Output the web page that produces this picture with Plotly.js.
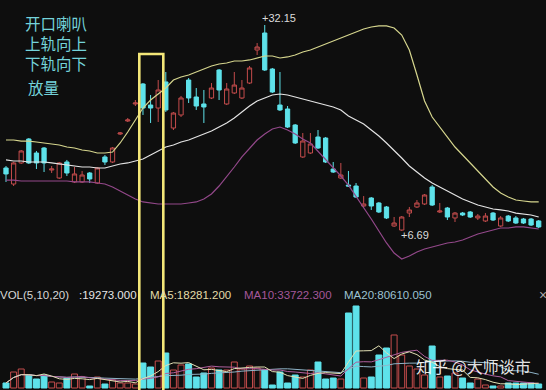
<!DOCTYPE html>
<html><head><meta charset="utf-8">
<script src="https://cdn.plot.ly/plotly-3.0.1.min.js"></script>
<style>html,body{margin:0;padding:0;background:#0e0e0e;}#c{width:546px;height:390px;}</style>
</head><body><div id="c"></div>
<script>
// ---- data ----
const openP = [14.48,12.50,15.10,18.06,16.33,16.95,14.23,13.24,15.22,12.75,
  12.75,13.86,12.62,15.84,15.22,18.68,20.29,22.39,24.86,22.26,
  21.89,25.11,19.42,21.03,25.35,23.25,22.39,23.13,26.59,22.39,
  23.75,23.13,24.98,29.06,31.16,26.71,22.26,21.77,19.79,15.84,
  16.33,18.31,18.18,14.35,13.24,12.37,12.25,9.78,10.77,10.15,
  9.66,7.31,6.81,8.91,9.66,10.03,12.13,9.04,9.53,8.30,
  8.91,9.04,8.30,7.93,8.91,7.31,8.54,8.30,8.17,8.17,7.93];
const closeP = [13.74,15.10,16.58,15.10,15.10,15.10,14.35,15.10,13.86,13.74,
  13.61,13.12,14.48,15.22,16.95,18.80,20.41,22.51,21.89,21.89,
  24.12,21.65,21.27,23.13,23.13,22.14,22.02,24.36,24.12,24.24,
  24.73,24.36,26.84,29.43,26.59,23.87,21.65,19.54,17.57,17.81,
  17.44,16.95,15.22,13.98,13.61,12.25,10.89,10.03,9.78,9.04,
  8.30,7.68,8.42,9.29,10.15,11.14,9.90,9.16,8.42,8.91,
  8.67,8.42,8.54,8.54,8.05,8.30,7.93,7.68,7.68,7.43,7.19];
const highP = [14.72,15.22,16.70,18.18,16.58,17.07,14.72,15.22,15.47,14.60,
  14.11,13.98,14.60,16.08,17.07,18.93,20.66,22.88,24.98,23.50,
  25.35,26.34,21.40,23.38,25.60,24.36,24.12,24.98,26.71,24.98,
  26.34,25.35,27.08,29.92,32.15,26.84,26.34,22.14,19.91,18.80,
  18.80,19.17,18.31,15.22,15.10,14.11,12.62,11.01,10.89,10.28,
  9.78,8.42,8.54,9.66,10.52,11.26,12.37,10.15,9.66,9.04,
  9.04,9.16,8.79,8.91,9.04,8.54,8.67,8.54,8.30,8.30,8.05];
const lowP = [12.75,12.25,14.97,14.97,14.35,13.98,13.86,13.12,13.49,12.62,
  12.62,12.62,12.50,14.85,15.10,18.55,20.16,22.14,21.03,20.04,
  20.16,21.40,19.17,20.78,22.51,21.65,20.04,23.00,22.88,22.26,
  23.62,23.00,24.86,28.44,26.47,23.75,21.52,19.42,17.44,15.71,
  16.21,16.83,15.10,13.86,13.12,12.13,10.77,9.66,9.29,8.91,
  8.17,7.19,6.69,8.42,9.53,9.90,9.78,8.91,8.05,7.80,
  8.54,8.30,8.05,7.80,7.93,7.19,7.80,7.56,7.56,7.31,7.06];
const bollUpper = [17.94,17.94,17.81,17.81,17.69,17.57,17.44,17.32,17.07,16.95,
  16.70,16.58,16.33,16.33,16.45,17.57,18.93,20.41,21.89,22.88,
  23.62,24.36,25.35,25.73,25.97,26.34,26.71,27.08,27.33,27.45,
  27.70,27.70,27.83,28.07,28.32,28.32,28.07,28.20,28.44,28.81,
  29.06,29.43,29.80,30.17,30.54,30.91,31.28,31.66,31.90,32.03,
  32.03,31.78,30.91,29.06,25.97,22.76,20.78,19.54,18.31,17.07,
  16.08,15.10,14.23,13.12,12.13,11.39,10.89,10.52,10.40,10.28,10.28];
const bollMid = [15.47,15.34,15.34,15.22,15.22,15.22,15.10,14.97,14.85,14.72,
  14.60,14.60,14.48,14.48,14.72,14.97,15.10,15.34,15.59,16.08,
  16.58,17.07,17.32,17.69,17.94,18.31,18.68,19.05,19.54,20.04,
  20.66,21.40,22.14,22.76,23.13,23.50,23.62,23.50,23.25,23.00,
  22.76,22.51,22.26,22.02,21.65,20.90,20.41,19.91,19.17,18.43,
  17.57,16.70,15.71,14.72,13.98,13.24,12.62,12.13,11.63,11.14,
  10.65,10.28,9.90,9.66,9.41,9.29,9.16,8.91,8.79,8.67,8.42];
const bollLower = [12.99,12.99,12.87,12.87,12.87,12.87,12.87,12.87,12.87,12.75,
  12.75,12.75,12.62,12.50,12.13,11.63,11.14,10.65,10.28,10.15,
  10.03,10.03,10.03,10.03,10.15,10.28,10.65,11.26,12.25,13.37,
  14.60,15.84,16.95,17.94,18.68,19.30,19.54,19.17,18.68,18.06,
  17.57,16.58,15.59,14.60,13.49,12.37,11.02,9.53,8.17,6.69,
  5.21,3.97,3.23,3.60,4.10,4.47,4.71,4.96,5.21,5.33,
  5.58,5.95,6.32,6.57,6.81,7.06,7.06,7.19,7.19,7.06,6.94];
const volume = [24100,76800,91200,62400,43200,62400,28800,24000,48000,67200,
  52800,9600,52800,19200,38400,24000,24000,19200,120000,100800,
  129600,168000,86400,110400,115200,52800,72000,96000,86400,86400,
  124800,91200,105600,96000,86400,14400,76800,24000,62400,52800,
  86400,124800,43200,48000,43200,360000,393600,48000,52800,158400,
  192000,254400,158400,105600,91200,62400,201600,52800,57600,72000,
  48000,24000,43200,14400,9600,9600,24000,24000,24000,24000,19273];
const notes = ['开口喇叭','上轨向上','下轨向下','放量'];
const volLabels = ['VOL(5,10,20)',':19273.000','MA5:18281.200','MA10:33722.300','MA20:80610.050'];
const watermark = '知乎 @大师谈市';

// ---- helpers ----
const n = closeP.length;
const idx = Array.from({length:n},(_,i)=>i);
function ma(arr,p){return arr.map((v,i)=>{const s=Math.max(0,i-p+1);let t=0;for(let k=s;k<=i;k++)t+=arr[k];return t/(i-s+1);});}
const CYAN='#5ee2ea', RED='#c44c4c', BG='#0e0e0e';
const isDown = idx.map(i=>closeP[i]<openP[i]);

const traces = [
 {type:'scatter',mode:'lines',x:idx,y:bollUpper,line:{color:'#d6d68e',width:1.2},hoverinfo:'skip'},
 {type:'scatter',mode:'lines',x:idx,y:bollMid,line:{color:'#e4e4e4',width:1.2},hoverinfo:'skip'},
 {type:'scatter',mode:'lines',x:idx,y:bollLower,line:{color:'#93488a',width:1.2},hoverinfo:'skip'},
 {type:'candlestick',x:idx,open:openP,high:highP,low:lowP,close:closeP,
  increasing:{line:{color:RED,width:1},fillcolor:BG},
  decreasing:{line:{color:CYAN,width:1},fillcolor:CYAN},whiskerwidth:0,hoverinfo:'skip'},
 {type:'bar',x:idx,y:volume,yaxis:'y2',width:0.78,
  marker:{color:isDown.map(d=>d?CYAN:BG),line:{color:isDown.map(d=>d?CYAN:RED),width:1}},hoverinfo:'skip'},
 {type:'scatter',mode:'lines',x:idx,y:ma(volume,20),yaxis:'y2',line:{color:'#8fb4c8',width:1},hoverinfo:'skip'},
 {type:'scatter',mode:'lines',x:idx,y:ma(volume,10),yaxis:'y2',line:{color:'#b0609e',width:1},hoverinfo:'skip'},
 {type:'scatter',mode:'lines',x:idx,y:ma(volume,5),yaxis:'y2',line:{color:'#e2e0b4',width:1},hoverinfo:'skip'}
];

// high / low markers
let hi=0,lo=0;
for(let i=0;i<n;i++){if(highP[i]>highP[hi])hi=i;if(lowP[i]<lowP[lo])lo=i;}
const annFont={family:'Liberation Sans, Arial, sans-serif',size:11,color:'#dcdcdc'};
const anns = [
 {x:hi,y:highP[hi],xref:'x',yref:'y',text:'+'+highP[hi].toFixed(2),showarrow:false,xanchor:'left',yanchor:'middle',xshift:-5,yshift:7,font:annFont},
 {x:lo,y:lowP[lo],xref:'x',yref:'y',text:'+'+lowP[lo].toFixed(2),showarrow:false,xanchor:'left',yanchor:'middle',xshift:-3,yshift:-4,font:annFont}
];
const noteFont={family:'Noto Sans CJK SC, sans-serif',size:15.5,color:'#74d3da'};
anns.push({xref:'paper',yref:'paper',x:23/546,y:1-43/390,text:notes.slice(0,3).join('<br>'),showarrow:false,
  xanchor:'left',yanchor:'middle',align:'left',font:noteFont});
anns.push({xref:'paper',yref:'paper',x:26/546,y:1-87/390,text:notes[3],showarrow:false,xanchor:'left',yanchor:'middle',font:noteFont});
const volX=[-2,77,148,242,342], volC=['#d8d8d8','#e6e6e6','#e4dca8','#a4589a','#9cc2d2'];
volLabels.forEach((t,k)=>anns.push({xref:'paper',yref:'paper',x:volX[k]/546,y:1-295/390,text:t,showarrow:false,xanchor:'left',yanchor:'middle',
  font:{family:'Liberation Sans, Arial, sans-serif',size:11.5,color:volC[k]}}));
anns.push({xref:'paper',yref:'paper',x:537/546,y:1-295/390,text:'×',showarrow:false,xanchor:'left',yanchor:'middle',font:{family:'Liberation Sans, Arial',size:14,color:'#a8a8a8'}});
anns.push({xref:'paper',yref:'paper',x:414/546,y:1-366/390,text:watermark,showarrow:false,xanchor:'left',yanchor:'middle',
  font:{family:'Noto Sans CJK SC, sans-serif',size:16,color:'rgba(255,255,255,0.9)'}});

const pxToIdx = p => (p-6)/7.61;
const layout = {
 width:546,height:390,margin:{l:0,r:0,t:0,b:0},
 paper_bgcolor:BG,plot_bgcolor:BG,showlegend:false,boxgap:0.2,bargap:0.2,
 xaxis:{range:[pxToIdx(0),pxToIdx(546)],visible:false,rangeslider:{visible:false},fixedrange:true},
 yaxis:{range:[-12.96,35.24],visible:false,fixedrange:true},
 yaxis2:{range:[-9600,1862400],visible:false,overlaying:'y',fixedrange:true},
 shapes:[{type:'rect',xref:'x',yref:'paper',x0:pxToIdx(139.3),x1:pxToIdx(163.3),y0:-0.02,y1:1-54/390,
   line:{color:'#f3e678',width:2.6},fillcolor:'rgba(0,0,0,0)',layer:'above'}],
 annotations:anns
};
Plotly.newPlot('c',traces,layout,{staticPlot:true,displayModeBar:false});
</script></body></html>
